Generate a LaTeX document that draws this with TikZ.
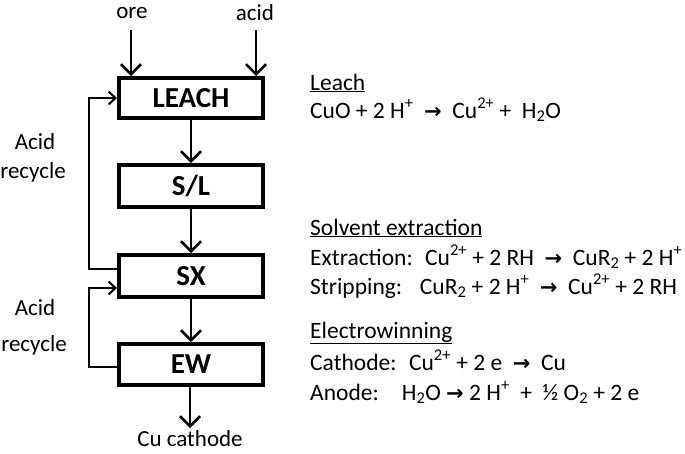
\documentclass[tikz,border=0pt]{standalone}
\usepackage{fontspec}
\setmainfont{Carlito}
\newfontfamily\symf{DejaVu Sans}
\usetikzlibrary{arrows.meta}
\newcommand{\rarr}{{\symf\bfseries\fontsize{21}{21}\selectfont →}}
\newcommand{\sps}[1]{\textsuperscript{#1}}
\newcommand{\sbs}[1]{\textsubscript{#1}}
\begin{document}
\begin{tikzpicture}[x=1pt,y=-1pt,
  unit/.style={draw,line width=4pt,minimum width=144pt,minimum height=40pt,inner sep=0pt,font=\fontsize{29}{29}\selectfont\bfseries},
  lbl/.style={inner sep=0pt,font=\fontsize{23}{23}\selectfont},
  eq/.style={anchor=base west,inner sep=0pt,font=\fontsize{23.5}{23.5}\selectfont},
  flow/.style={line width=2.5pt,-{Straight Barb[length=10pt,width=20pt,line width=2.5pt]}},
  rec/.style={line width=2pt,-{Straight Barb[length=7pt,width=13pt,line width=2pt]}}]
\useasboundingbox (0,0) rectangle (685,453);
\node[unit] (leach) at (191,98) {LEACH};
\node[unit,minimum height=42pt] (sl) at (191,186) {S/L};
\node[unit,minimum height=42pt] (sx) at (191,276) {SX};
\node[unit,minimum height=41pt] (ew) at (191,364.5) {EW};
\node[lbl] (ore) at (132,13) {ore};
\node[lbl] (acid) at (255,13) {acid};
\node[lbl] (cu) at (190,439) {Cu cathode};
\node[lbl] (a1) at (35,142) {Acid};
\node[lbl] (r1) at (33,172) {recycle};
\node[lbl] (a2) at (35,308) {Acid};
\node[lbl] (r2) at (34,345) {recycle};
\coordinate (oret) at (131,30);
\coordinate (acidt) at (256,30);
\coordinate (cub) at (190,428);
\draw[flow] (oret) -- (oret |- leach.north);
\draw[flow] (acidt) -- (acidt |- leach.north);
\draw[flow] (leach) -- (sl);
\draw[flow] (sl) -- (sx);
\draw[flow] (sx) -- (ew);
\draw[flow] (ew.south -| cub) -- (cub);
\coordinate (c1) at (89,269);
\coordinate (c2) at (89,288);
\coordinate (c3) at (89,367);
\draw[rec] (sx.west |- c1) -- (c1) |- (leach.west);
\draw[rec] (ew.west |- c3) -- (c3) -- (c2) -- (sx.west |- c2);
\node[eq] (h1) at (310,90) {\underline{Leach}};
\node[eq] (e1) at (310,118) {CuO + 2 H\sps{+} \ \rarr\ \ Cu\sps{2+} + \ H\sbs{2}O};
\node[eq] (h2) at (310,235) {\underline{Solvent extraction}};
\node[eq] (e2) at (310,265) {Extraction: \ Cu\sps{2+} + 2 RH \ \rarr\ \ CuR\sbs{2} + 2 H\sps{+}};
\node[eq] (e3) at (310,294) {Stripping: \ \ CuR\sbs{2} + 2 H\sps{+} \ \rarr\ \ Cu\sps{2+} + 2 RH};
\node[eq] (h3) at (310,338) {\underline{Electrowinning}};
\node[eq] (e4) at (310,370) {Cathode: \ Cu\sps{2+} + 2 e \ \rarr\ \ Cu};
\node[eq] (e5) at (310,400) {Anode: \ \ \ H\sbs{2}O \rarr\ 2 H\sps{+} \ + \ ½ O\sbs{2} + 2 e};
\end{tikzpicture}
\end{document}
